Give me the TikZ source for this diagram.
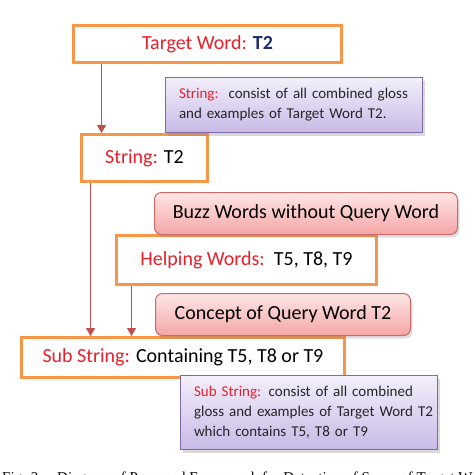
\documentclass[tikz,border=0pt]{standalone}
\usepackage{fontspec}
\setmainfont{Carlito}
\newfontfamily\captionfont{Liberation Serif}
\usetikzlibrary{arrows.meta,shadows}

\definecolor{boxorange}{HTML}{F79646}
\definecolor{keyred}{HTML}{E8202A}
\definecolor{termblue}{HTML}{1F2F6B}
\definecolor{linkred}{HTML}{C0504D}
\definecolor{notetop}{HTML}{F3EFFB}
\definecolor{notebottom}{HTML}{C8BAE6}
\definecolor{noteline}{HTML}{7E6AA6}
\definecolor{buzztop}{HTML}{FFE6E6}
\definecolor{buzzbottom}{HTML}{F4A6A6}
\definecolor{buzzline}{HTML}{C96A6A}

\tikzset{
  wordbox/.style={draw=boxorange, line width=3pt, fill=white, inner sep=0pt,
    font=\fontsize{20}{24}\selectfont},
  notebox/.style={draw=noteline, line width=1pt, top color=notetop, bottom color=notebottom,
    drop shadow={shadow xshift=2pt, shadow yshift=-3pt, opacity=0.3},
    text width=230pt, inner xsep=13pt, align=left, text=black!85,
    minimum width=257pt, font=\fontsize{15}{20}\selectfont},
  buzzbox/.style={draw=buzzline, line width=1pt, rounded corners=7pt,
    top color=buzztop, bottom color=buzzbottom,
    drop shadow={shadow xshift=2pt, shadow yshift=-3pt, opacity=0.25},
    minimum height=42pt, font=\fontsize{20}{24}\selectfont},
  link/.style={draw=linkred, line width=1.2pt, -{Triangle[width=9pt,length=8pt]}}
}

\begin{document}
\begin{tikzpicture}[x=1pt,y=-1pt]
  \useasboundingbox (0,0) rectangle (474,475);
  \clip (0,0) rectangle (474,475);
  % framed boxes of the chain
  \node[wordbox, minimum width=268pt, minimum height=37pt] (target) at (207.5,44)
    {\textcolor{keyred}{Target Word:} \textcolor{termblue}{\textbf{T2}}};
  \node[wordbox, minimum width=126pt, minimum height=47pt] (string) at (144.5,158)
    {\textcolor{keyred}{String:} T2};
  \node[wordbox, minimum width=260pt, minimum height=49pt] (helping) at (246.5,260)
    {\textcolor{keyred}{Helping Words:}\ \ T5, T8, T9};
  \node[wordbox, minimum width=323pt, minimum height=40pt] (subs) at (183,357.5)
    {\textcolor{keyred}{Sub String:} Containing T5, T8 or T9};
  % arrow positions
  \coordinate (s1) at ([xshift=21.5pt]string.north west);
  \coordinate (s2) at ([xshift=10.5pt]string.south west);
  \coordinate (s3) at ([xshift=16.5pt]helping.south west);
  \draw[link] (target.south -| s1) -- (s1);
  \draw[link] (s2) -- (subs.north -| s2);
  \draw[link] (s3) -- (subs.north -| s3);
  % notes and word groups
  \node[notebox, minimum height=55pt] (note1) at (294,105)
    {\makebox[230pt][s]{\textcolor{keyred}{String:}\ \ consist of all combined gloss}\\
     and examples of Target Word T2.};
  \node[buzzbox, minimum width=303pt] (buzz) at (306,213.5) {Buzz Words without Query Word};
  \node[buzzbox, minimum width=255pt] (concept) at (283,314.5) {Concept of Query Word T2};
  \node[notebox, minimum height=74pt] (note2) at (309,412.5)
    {\makebox[230pt][s]{\textcolor{keyred}{Sub String:} consist of all combined}\\
     \makebox[230pt][s]{gloss and examples of Target Word T2}\\
     which contains T5, T8 or T9};
  % caption, cut by the page edge
  \node[anchor=base west, inner sep=0pt, font=\captionfont\fontsize{15}{18}\selectfont] (caption) at (2,482)
    {Fig. 2.\hspace{15pt}Diagram of Proposed Framework for Detection of Sense of Target Word};
\end{tikzpicture}
\end{document}
